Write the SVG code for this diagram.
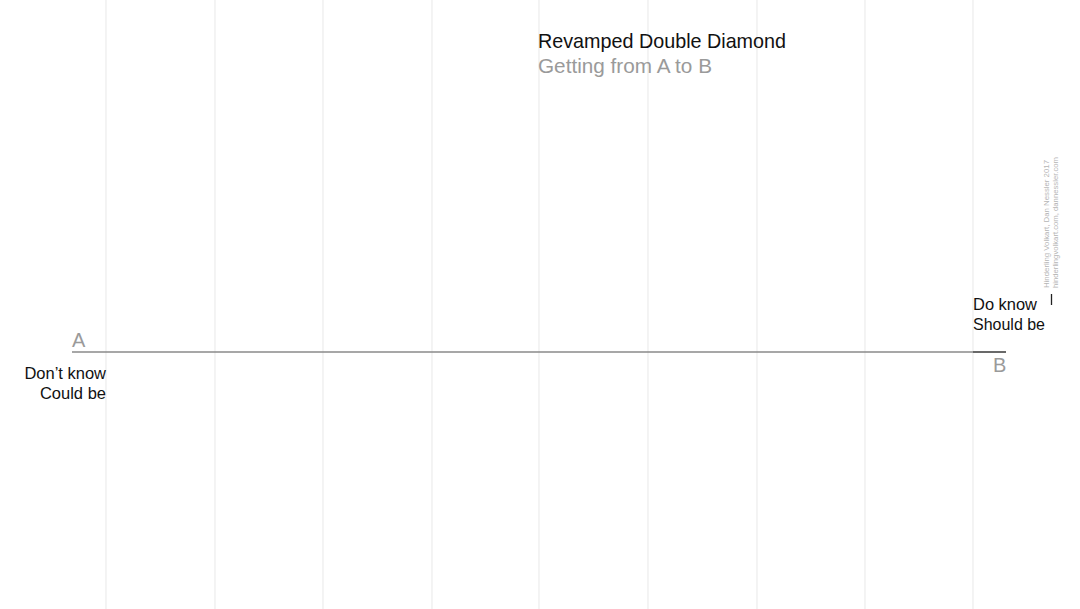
<svg xmlns="http://www.w3.org/2000/svg" width="1080" height="609" viewBox="0 0 1080 609">
<style>
.grid line{stroke:#ececec;stroke-width:1.2}
.t{font-family:"Liberation Sans",Arial,sans-serif}
.dark{fill:#111}
.grey{fill:#9a9a9a}
.credit{font-family:"Liberation Sans",Arial,sans-serif;font-size:7px;fill:#b5b5b5}
</style>
<rect width="1080" height="609" fill="#fff"/>
<g id="grid" class="grid">
<line x1="106" y1="0" x2="106" y2="609"/>
<line x1="215" y1="0" x2="215" y2="609"/>
<line x1="323" y1="0" x2="323" y2="609"/>
<line x1="432" y1="0" x2="432" y2="609"/>
<line x1="539" y1="0" x2="539" y2="609"/>
<line x1="648" y1="0" x2="648" y2="609"/>
<line x1="757" y1="0" x2="757" y2="609"/>
<line x1="865" y1="0" x2="865" y2="609"/>
<line x1="973" y1="0" x2="973" y2="609"/>
</g>
<g id="title">
<text class="t dark" x="538" y="48" font-size="21" textLength="248" lengthAdjust="spacingAndGlyphs">Revamped Double Diamond</text>
<text class="t grey" x="538" y="73" font-size="21" textLength="174" lengthAdjust="spacingAndGlyphs">Getting from A to B</text>
</g>
<g id="connectors">
<line x1="72" y1="352" x2="1006" y2="352" stroke="#8a8a8a" stroke-width="1.6"/>
<line x1="973" y1="352" x2="1006" y2="352" stroke="#555" stroke-width="1.6"/>
</g>
<g id="nodeA">
<text class="t grey" x="72" y="347" font-size="20">A</text>
<text class="t dark" x="106" y="379" font-size="16.5" text-anchor="end">Don’t know</text>
<text class="t dark" x="106" y="399" font-size="16.5" text-anchor="end">Could be</text>
</g>
<g id="nodeB">
<text class="t grey" x="993" y="372" font-size="20">B</text>
<text class="t dark" x="973" y="310" font-size="16.5" textLength="64" lengthAdjust="spacingAndGlyphs">Do know</text>
<text class="t dark" x="973" y="330" font-size="16.5" textLength="72" lengthAdjust="spacingAndGlyphs">Should be</text>
</g>
<g id="credit">
<text class="credit" transform="translate(1049,288) rotate(-90)" textLength="128" lengthAdjust="spacingAndGlyphs">Hinderling Volkart, Dan Nessler 2017</text>
<text class="credit" transform="translate(1058,288) rotate(-90)" textLength="131" lengthAdjust="spacingAndGlyphs">hinderlingvolkart.com, dannessler.com</text>
<line x1="1051.5" y1="294" x2="1051.5" y2="305" stroke="#222" stroke-width="1.3"/>
</g>
</svg>
